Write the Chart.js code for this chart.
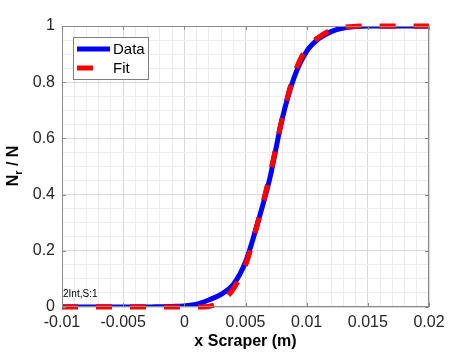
<!DOCTYPE html>
<html>
<head>
<meta charset="utf-8">
<script src="https://cdn.jsdelivr.net/npm/chart.js@4.4.1/dist/chart.umd.min.js"></script>
<style>
html,body{margin:0;padding:0;background:#fff;}
#wrap{width:474px;height:355px;}
</style>
</head>
<body>
<div id="wrap"><canvas id="c" width="474" height="355"></canvas></div>
<script>
const xValues = [-0.010,-0.009,-0.008,-0.007,-0.006,-0.005,-0.004,-0.003,-0.002,-0.001,0.000,0.001,0.002,0.003,0.004,0.005,0.006,0.007,0.008,0.009,0.010,0.011,0.012,0.013,0.014,0.015,0.016,0.017,0.018,0.019,0.020];
const dataValues = [0,0,0,0,0,0,0,0,0.001,0.002,0.004,0.010,0.025,0.045,0.080,0.160,0.300,0.460,0.670,0.820,0.910,0.955,0.980,0.993,0.998,1,1,1,1,1,1];
const fitValues = [0,0,0,0,0,0,0,0,0,0,0,0,0.002,0.020,0.065,0.150,0.300,0.470,0.670,0.830,0.920,0.960,0.985,0.995,0.999,1,1,1,1,1,1];
const xMajorTicks = [-0.01,-0.005,0,0.005,0.01,0.015,0.02];
const yMajorTicks = [0,0.2,0.4,0.6,0.8,1];
const seriesNames = ['Data','Fit'];
const seriesColors = ['#0000ff','#ff0000'];
const xTitle = 'x Scraper (m)';
const annotationText = '2Int,S:1';

const FONT = '"Liberation Sans", Arial, sans-serif';
function isMajor(v, step){ return Math.abs(Math.round(v/step)*step - v) < 1e-9; }

// make sure the dashed Fit line ends up on top of the Data line
const fitOnTop = {
  id:'fitOnTop',
  afterDatasetsDraw(chart){
    const meta = chart.getDatasetMeta(1);
    if (meta && meta.controller) {
      const a = chart.chartArea;
      chart.ctx.save();
      chart.ctx.beginPath();
      chart.ctx.rect(a.left-3, a.top-3, a.right-a.left+6, a.bottom-a.top+6);
      chart.ctx.clip();
      meta.controller.draw();
      chart.ctx.restore();
    }
  }
};

const decor = {
  id:'decor',
  afterDraw(chart){
    const ctx = chart.ctx, a = chart.chartArea;
    const xs = chart.scales.x, ys = chart.scales.y;
    ctx.save();
    ctx.setLineDash([]);
    ctx.strokeStyle = '#8a8a8a';
    ctx.lineWidth = 1;
    ctx.strokeRect(a.left+0.5, a.top+0.5, a.right-a.left-1, a.bottom-a.top-1);
    ctx.beginPath();
    xMajorTicks.forEach(v=>{
      const px = Math.round(xs.getPixelForValue(v))+0.5;
      ctx.moveTo(px, a.bottom); ctx.lineTo(px, a.bottom-4);
      ctx.moveTo(px, a.top); ctx.lineTo(px, a.top+4);
    });
    yMajorTicks.forEach(v=>{
      const py = Math.round(ys.getPixelForValue(v))+0.5;
      ctx.moveTo(a.left, py); ctx.lineTo(a.left+4, py);
      ctx.moveTo(a.right, py); ctx.lineTo(a.right-4, py);
    });
    ctx.stroke();
    ctx.fillStyle = '#000';
    ctx.font = '10px ' + FONT;
    ctx.textBaseline = 'alphabetic';
    ctx.textAlign = 'left';
    ctx.fillText(annotationText, a.left+1, a.bottom-10);
    const lx = 73, ly = 37, lw = 75, lh = 42;
    ctx.fillStyle = '#fff';
    ctx.fillRect(lx, ly, lw, lh);
    ctx.strokeStyle = '#7f7f7f';
    ctx.lineWidth = 1;
    ctx.strokeRect(lx+0.5, ly+0.5, lw, lh);
    ctx.lineWidth = 5;
    ctx.strokeStyle = seriesColors[0];
    ctx.beginPath(); ctx.moveTo(77, 49); ctx.lineTo(110, 49); ctx.stroke();
    ctx.strokeStyle = seriesColors[1];
    ctx.beginPath(); ctx.moveTo(77, 68); ctx.lineTo(93, 68); ctx.stroke();
    ctx.fillStyle = '#000';
    ctx.font = '15px ' + FONT;
    ctx.textBaseline = 'middle';
    ctx.fillText(seriesNames[0], 113, 50);
    ctx.fillText(seriesNames[1], 113, 69);
    ctx.translate(12, 166);
    ctx.rotate(-Math.PI/2);
    ctx.fillStyle = '#000';
    ctx.textBaseline = 'alphabetic';
    const big = 'bold 16px ' + FONT, small = 'bold 11px ' + FONT;
    ctx.font = big; const wN = ctx.measureText('N').width;
    ctx.font = small; const wr = ctx.measureText('r').width;
    ctx.font = big; const wRest = ctx.measureText(' / N').width;
    const total = wN + wr + wRest;
    let x0 = -total/2;
    const base = 6;
    ctx.font = big; ctx.fillText('N', x0, base); x0 += wN;
    ctx.font = small; ctx.fillText('r', x0, base+4); x0 += wr;
    ctx.font = big; ctx.fillText(' / N', x0, base);
    ctx.restore();
  }
};

new Chart(document.getElementById('c'), {
  type:'line',
  data:{
    datasets:[
      {label:seriesNames[0], data:xValues.map((x,i)=>({x:x,y:dataValues[i]})), borderColor:seriesColors[0], borderWidth:5, pointRadius:0, cubicInterpolationMode:'monotone', fill:false},
      {label:seriesNames[1], data:xValues.map((x,i)=>({x:x,y:fitValues[i]})), borderColor:seriesColors[1], borderWidth:5, borderDash:[16,18], pointRadius:0, cubicInterpolationMode:'monotone', fill:false}
    ]
  },
  options:{
    responsive:false, animation:false,
    layout:{padding:{left:0, top:26, right:45, bottom:0}},
    plugins:{legend:{display:false}, tooltip:{enabled:false}},
    scales:{
      x:{type:'linear', min:-0.01, max:0.02,
        afterFit(s){ s.height = 48; },
        border:{display:false},
        grid:{drawTicks:false, color:(c)=> isMajor(c.tick.value,0.005)?'#d9d9d9':'#ededed', lineWidth:1},
        ticks:{stepSize:0.001, autoSkip:false, maxRotation:0, padding:6, color:'#262626', font:{family:FONT, size:16},
          callback:(v)=> isMajor(v,0.005) ? String(parseFloat(v.toFixed(3))) : ''},
        title:{display:true, text:xTitle, color:'#000', font:{family:FONT, size:16, weight:'bold'}, padding:{top:0}}
      },
      y:{type:'linear', min:0, max:1,
        afterFit(s){ s.width = 62; },
        border:{display:false},
        grid:{drawTicks:false, color:(c)=> isMajor(c.tick.value,0.2)?'#d9d9d9':'#ededed', lineWidth:1},
        ticks:{stepSize:0.05, autoSkip:false, padding:7, color:'#262626', font:{family:FONT, size:16},
          callback:(v)=> isMajor(v,0.2) ? String(parseFloat(v.toFixed(2))) : ''}
      }
    }
  },
  plugins:[fitOnTop, decor]
});
</script>
</body>
</html>
